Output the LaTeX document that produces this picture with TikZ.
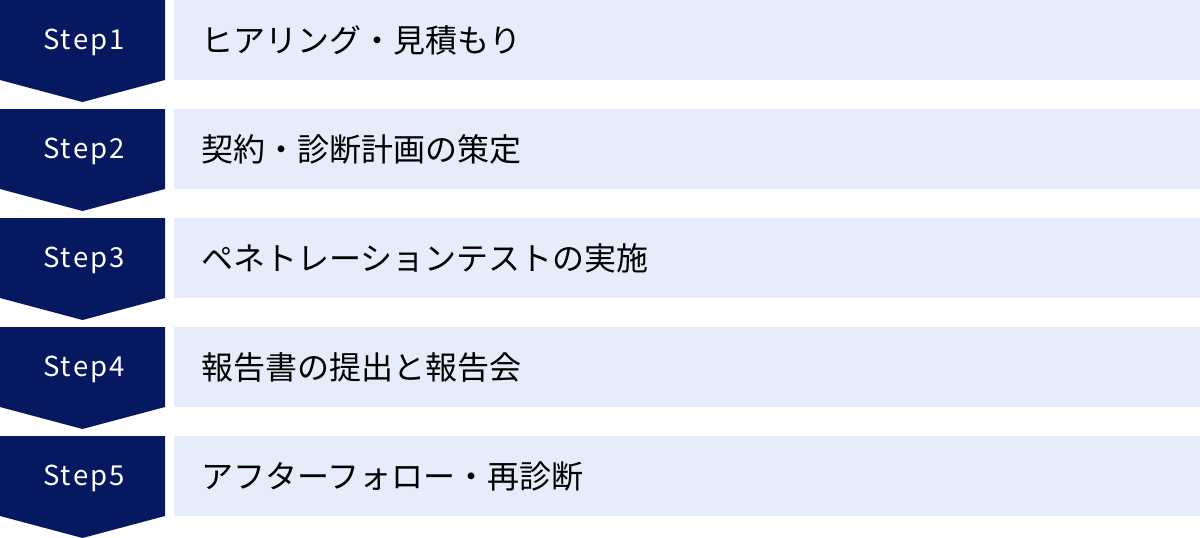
\documentclass[tikz,border=0pt]{standalone}
\usepackage{fontspec}
\setmainfont{Noto Sans CJK JP}
\newfontfamily\stepfont[LetterSpace=8]{Noto Sans CJK JP}
\definecolor{navy}{HTML}{061860}
\definecolor{pale}{HTML}{E6ECF9}
\tikzset{
  chev/.style={fill=navy, draw=none},
  bar/.style={fill=pale, draw=none},
  steplabel/.style={text=white, font=\stepfont\fontsize{27.5}{30}\selectfont, anchor=base, inner sep=0pt},
  desc/.style={text=black, font=\fontsize{32}{36}\selectfont, anchor=west, inner sep=0pt}
}
\begin{document}
\begin{tikzpicture}[x=1pt,y=-1pt]
\useasboundingbox (0,0) rectangle (1200,538);
\foreach \i/\t in {1/ヒアリング・見積もり,2/契約・診断計画の策定,3/ペネトレーションテストの実施,4/報告書の提出と報告会,5/アフターフォロー・再診断}{
  \pgfmathsetmacro{\yy}{(\i-1)*109}
  \path[chev] (0,\yy) -- (165,\yy) -- (165,\yy+80) -- (82.5,\yy+102) -- (0,\yy+80) -- cycle;
  \path[bar] (174,\yy) rectangle (1200,\yy+80);
  \node[steplabel] (s\i) at (84,\yy+49.5) {Step\i};
  \node[desc] (d\i) at (201,\yy+40) {\t};
}
\end{tikzpicture}
\end{document}
